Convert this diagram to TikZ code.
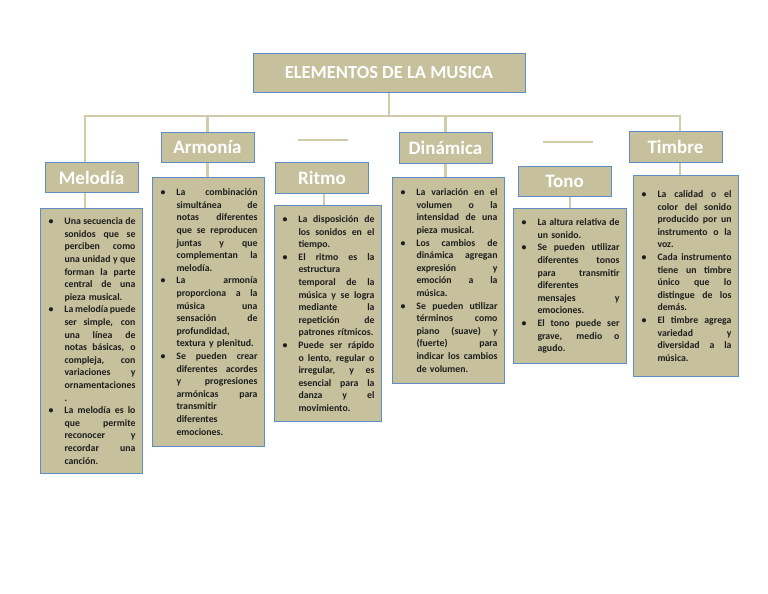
\documentclass[tikz,border=0pt]{standalone}
\usepackage{fontspec}
\setmainfont{Carlito}
\usepackage{tikz}
\usetikzlibrary{positioning}

\definecolor{boxtan}{HTML}{C6C09C}
\definecolor{linetan}{HTML}{D0CBA9}
\definecolor{edgeblue}{HTML}{5E8CC4}
\definecolor{textdark}{HTML}{1E1E1E}

\newlength{\bulw}\setlength{\bulw}{17pt}
\newlength{\colw}
% bullet line, justified line, plain line
\newcommand{\jbox}[1]{\hbox to \colw{\spaceskip=.22em plus 1fill minus .05em\relax #1}}
\newcommand{\bj}[1]{\noindent\hbox to \bulw{\hspace{1pt}\textbullet\hfil}\jbox{#1}\par}
\newcommand{\cj}[1]{\noindent\hspace*{\bulw}\jbox{#1}\par}
\newcommand{\cl}[1]{\noindent\hspace*{\bulw}#1\par}

\begin{document}
\begin{tikzpicture}[x=1pt,y=-1pt,
    hd/.style={draw=edgeblue,line width=1pt,fill=boxtan,text=white,
      font=\fontsize{19}{20}\selectfont\bfseries,
      minimum width=93pt,minimum height=30pt,inner sep=0pt},
    txt/.style={draw=edgeblue,line width=1pt,fill=boxtan,text=textdark,
      font=\fontsize{9.8}{12.6}\selectfont\bfseries,
      anchor=north west,inner xsep=7pt,inner ysep=4pt,
      text width=#1+17pt,
      execute at begin node={\setlength{\colw}{#1}}},
    conn/.style={draw=linetan,line width=2.6pt}]
  \useasboundingbox (0,0) rectangle (768,594);

  \node[hd,minimum width=272pt,minimum height=38pt,
    font=\fontsize{18.5}{20}\selectfont\bfseries] (tit) at (389,73) {ELEMENTOS DE LA MUSICA};

  \node[hd] (mel) at (91.5,177.5) {Melodía};
  \node[hd] (arm) at (207.5,147) {Armonía};
  \node[hd,minimum height=31pt] (rit) at (322,178) {Ritmo};
  \node[hd,minimum height=31pt] (din) at (445.5,147.5) {Dinámica};
  \node[hd] (ton) at (564.5,181) {Tono};
  \node[hd,minimum height=31pt] (tim) at (675.5,146.5) {Timbre};

  \node[txt=71pt,minimum height=265pt] (melt) at (40,208) {%
    \bj{Una secuencia de}
    \cj{sonidos que se}
    \cj{perciben como}
    \cj{una unidad y que}
    \cj{forman la parte}
    \cj{central de una}
    \cl{pieza musical.}
    \bj{La melodía puede}
    \cj{ser simple, con}
    \cj{una línea de}
    \cj{notas básicas, o}
    \cj{compleja, con}
    \cj{variaciones y}
    \cj{ornamentaciones}
    \cl{.}
    \bj{La melodía es lo}
    \cj{que permite}
    \cj{reconocer y}
    \cj{recordar una}
    \cl{canción.}};

  \node[txt=81pt,minimum height=269pt] (armt) at (152,177) {%
    \bj{La combinación}
    \cj{simultánea de}
    \cj{notas diferentes}
    \cj{que se reproducen}
    \cj{juntas y que}
    \cj{complementan la}
    \cl{melodía.}
    \bj{La armonía}
    \cj{proporciona a la}
    \cj{música una}
    \cj{sensación de}
    \cl{profundidad,}
    \cl{textura y plenitud.}
    \bj{Se pueden crear}
    \cj{diferentes acordes}
    \cj{y progresiones}
    \cj{armónicas para}
    \cl{transmitir}
    \cl{diferentes}
    \cl{emociones.}};

  \node[txt=76pt,minimum height=216pt] (ritt) at (274,205) {%
    \bj{La disposición de}
    \cj{los sonidos en el}
    \cl{tiempo.}
    \bj{El ritmo es la}
    \cl{estructura}
    \cj{temporal de la}
    \cj{música y se logra}
    \cj{mediante la}
    \cj{repetición de}
    \cl{patrones rítmicos.}
    \bj{Puede ser rápido}
    \cj{o lento, regular o}
    \cj{irregular, y es}
    \cj{esencial para la}
    \cj{danza y el}
    \cl{movimiento.}};

  \node[txt=81pt,minimum height=206pt] (dint) at (392,177) {%
    \bj{La variación en el}
    \cj{volumen o la}
    \cj{intensidad de una}
    \cl{pieza musical.}
    \bj{Los cambios de}
    \cj{dinámica agregan}
    \cj{expresión y}
    \cj{emoción a la}
    \cl{música.}
    \bj{Se pueden utilizar}
    \cj{términos como}
    \cj{piano (suave) y}
    \cj{(fuerte) para}
    \cj{indicar los cambios}
    \cl{de volumen.}};

  \node[txt=82pt,minimum height=155pt] (tont) at (513,208) {%
    \bj{La altura relativa de}
    \cl{un sonido.}
    \bj{Se pueden utilizar}
    \cj{diferentes tonos}
    \cj{para transmitir}
    \cl{diferentes}
    \cj{mensajes y}
    \cl{emociones.}
    \bj{El tono puede ser}
    \cj{grave, medio o}
    \cl{agudo.}};

  \node[txt=74pt,minimum height=201pt] (timt) at (633,175) {%
    \bj{La calidad o el}
    \cj{color del sonido}
    \cj{producido por un}
    \cj{instrumento o la}
    \cl{voz.}
    \bj{Cada instrumento}
    \cj{tiene un timbre}
    \cj{único que lo}
    \cj{distingue de los}
    \cl{demás.}
    \bj{El timbre agrega}
    \cj{variedad y}
    \cj{diversidad a la}
    \cl{música.}};

  % connectors
  \coordinate (busl) at (85,116);
  \coordinate (busr) at (680,116);
  \coordinate (ritl) at (298,140);
  \coordinate (ritr) at (348,140);
  \coordinate (tonl) at (543,142);
  \coordinate (tonr) at (593,142);

  \draw[conn] (tit.south) -- (tit.south |- busl);
  \draw[conn] (busl |- mel.north) -- (busl) -- (busr) -- (busr |- tim.north);
  \draw[conn] (arm.north) -- (arm.north |- busl);
  \draw[conn] (din.north) -- (din.north |- busl);
  \draw[conn] (ritl) -- (ritr);
  \draw[conn] (tonl) -- (tonr);

  \draw[conn] (busl |- mel.south) -- (busl |- melt.north);
  \draw[conn] (arm.south) -- (arm.south |- armt.north);
  \draw[conn] ([xshift=2pt]rit.south) -- ([xshift=2pt]rit.south |- ritt.north);
  \draw[conn] (din.south) -- (din.south |- dint.north);
  \draw[conn] (tont.north) -- (tont.north |- ton.south);
  \draw[conn] (busr |- tim.south) -- (busr |- timt.north);
\end{tikzpicture}
\end{document}
